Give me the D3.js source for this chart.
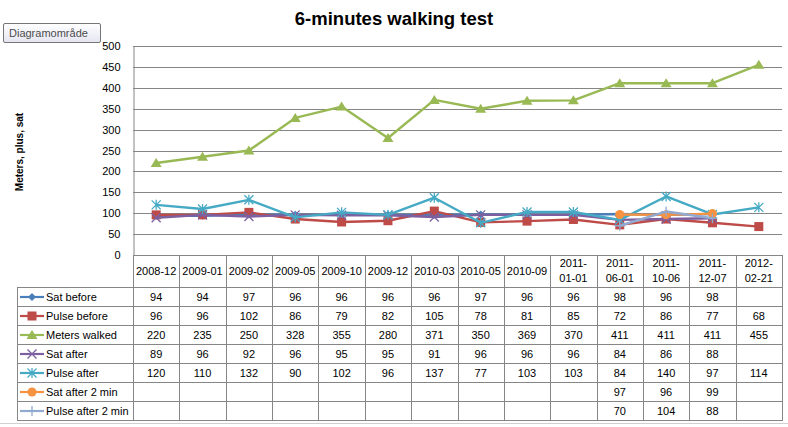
<!DOCTYPE html>
<html><head><meta charset="utf-8">
<script src="https://cdn.jsdelivr.net/npm/d3@7/dist/d3.min.js"></script>
<style>
html,body{margin:0;padding:0;background:#fff;}
svg{display:block;font-family:"Liberation Sans",Arial,sans-serif;}
</style></head>
<body><svg id="c" width="788" height="427"></svg>
<script>
const title = "6-minutes walking test";
const yTitle = "Meters, plus, sat";
const categories = ["2008-12","2009-01","2009-02","2009-05","2009-10","2009-12","2010-03","2010-05","2010-09","2011-01-01","2011-06-01","2011-10-06","2011-12-07","2012-02-21"];
const yTicks = [0,50,100,150,200,250,300,350,400,450,500];
const seriesNames = ["Sat before","Pulse before","Meters walked","Sat after","Pulse after","Sat after 2 min","Pulse after 2 min"];
const satBefore = [94,94,97,96,96,96,96,97,96,96,98,96,98,null];
const pulseBefore = [96,96,102,86,79,82,105,78,81,85,72,86,77,68];
const metersWalked = [220,235,250,328,355,280,371,350,369,370,411,411,411,455];
const satAfter = [89,96,92,96,95,95,91,96,96,96,84,86,88,null];
const pulseAfter = [120,110,132,90,102,96,137,77,103,103,84,140,97,114];
const satAfter2 = [null,null,null,null,null,null,null,null,null,null,97,96,99,null];
const pulseAfter2 = [null,null,null,null,null,null,null,null,null,null,70,104,88,null];
const seriesValues = [satBefore,pulseBefore,metersWalked,satAfter,pulseAfter,satAfter2,pulseAfter2];
const colors = ["#4A7EBB","#BE4B48","#98B954","#7D60A0","#46AAC5","#F69240","#93A9CF"];
const markers = ["diamond","square","triangle","x","asterisk","circle","plus"];

const svg = d3.select("#c");
const L = 133, R = 782, T = 46, B = 255;
const tableLeft = 17, headerBottom = 287, rowH = 19;

const x = d3.scaleBand().domain(categories).range([L, R]);
const y = d3.scaleLinear().domain([0, 500]).range([B, T]);
const grid = "#868686";

svg.append("line").attr("x1",0).attr("x2",788).attr("y1",423.5).attr("y2",423.5).attr("stroke","#d0d0d0");

svg.append("text").attr("x",394).attr("y",25).attr("text-anchor","middle")
  .attr("font-size",18.5).attr("font-weight","bold").text(title);

svg.append("text").attr("transform","translate(23,152) rotate(-90)").attr("text-anchor","middle")
  .attr("font-size",10).attr("font-weight","bold").text(yTitle);

svg.append("g").selectAll("line").data(yTicks).join("line")
  .attr("x1",L).attr("x2",R).attr("y1",d=>Math.round(y(d))+0.5).attr("y2",d=>Math.round(y(d))+0.5)
  .attr("stroke",grid).attr("stroke-width",1);

const ya = svg.append("g").attr("transform",`translate(${L+0.5},0)`)
  .call(d3.axisLeft(y).tickValues(yTicks).tickSize(0).tickPadding(13));
ya.select(".domain").attr("stroke",grid);
ya.selectAll("text").attr("font-size",11).attr("fill","#000").attr("font-family","Liberation Sans, Arial, sans-serif");

const tbl = svg.append("g");
const bw = x.bandwidth();
categories.forEach((c,i)=>{
  const xx = Math.round(x(c))+0.5;
  tbl.append("line").attr("x1",xx).attr("x2",xx).attr("y1",B).attr("y2",headerBottom+rowH*7).attr("stroke",grid);
});
tbl.append("line").attr("x1",R+0.5).attr("x2",R+0.5).attr("y1",B).attr("y2",headerBottom+rowH*7).attr("stroke",grid);
tbl.append("line").attr("x1",tableLeft+0.5).attr("x2",tableLeft+0.5).attr("y1",headerBottom).attr("y2",headerBottom+rowH*7).attr("stroke",grid);
for(let r=0;r<=7;r++){
  const yy = headerBottom + r*rowH + 0.5;
  tbl.append("line").attr("x1",tableLeft).attr("x2",R+1).attr("y1",yy).attr("y2",yy).attr("stroke",grid);
}
categories.forEach(c=>{
  const cx = x(c)+bw/2;
  const t = tbl.append("text").attr("text-anchor","middle").attr("font-size",11);
  if(c.length>7){
    t.append("tspan").attr("x",cx).attr("y",267).text(c.slice(0,5));
    t.append("tspan").attr("x",cx).attr("y",282).text(c.slice(5));
  } else {
    t.attr("x",cx).attr("y",275).text(c);
  }
});

function drawMarker(g, type, cx, cy, color){
  const s = 4.5;
  if(type==="diamond"){
    g.append("path").attr("d",`M${cx},${cy-4}L${cx+4},${cy}L${cx},${cy+4}L${cx-4},${cy}Z`).attr("fill",color);
  } else if(type==="square"){
    g.append("rect").attr("x",cx-4.5).attr("y",cy-4.5).attr("width",9).attr("height",9).attr("fill",color);
  } else if(type==="triangle"){
    g.append("path").attr("d",`M${cx},${cy-5}L${cx+5.5},${cy+4}L${cx-5.5},${cy+4}Z`).attr("fill",color);
  } else if(type==="circle"){
    g.append("circle").attr("cx",cx).attr("cy",cy).attr("r",4.5).attr("fill",color);
  } else if(type==="x"){
    g.append("path").attr("d",`M${cx-s},${cy-s}L${cx+s},${cy+s}M${cx-s},${cy+s}L${cx+s},${cy-s}`).attr("stroke",color).attr("stroke-width",1.3);
  } else if(type==="asterisk"){
    g.append("path").attr("d",`M${cx-s},${cy-s}L${cx+s},${cy+s}M${cx-s},${cy+s}L${cx+s},${cy-s}M${cx},${cy-s-0.5}L${cx},${cy+s+0.5}`).attr("stroke",color).attr("stroke-width",1.3);
  } else if(type==="plus"){
    g.append("path").attr("d",`M${cx-s-0.5},${cy}L${cx+s+0.5},${cy}M${cx},${cy-s-0.5}L${cx},${cy+s+0.5}`).attr("stroke",color).attr("stroke-width",1.3);
  }
}

const line = d3.line().defined(d=>d.v!=null).x(d=>x(d.c)+bw/2).y(d=>y(d.v));
seriesValues.forEach((vals,si)=>{
  const data = categories.map((c,i)=>({c, v: vals[i]}));
  const g = svg.append("g");
  g.append("path").datum(data.filter(d=>d.v!=null)).attr("d",line).attr("fill","none")
    .attr("stroke",colors[si]).attr("stroke-width",2.4).attr("stroke-linejoin","round");
  data.filter(d=>d.v!=null).forEach(d=>drawMarker(g, markers[si], x(d.c)+bw/2, y(d.v), colors[si]));
});

seriesNames.forEach((name,si)=>{
  const cy = headerBottom + si*rowH + rowH/2;
  const g = tbl.append("g");
  g.append("line").attr("x1",20).attr("x2",44).attr("y1",cy+0.5).attr("y2",cy+0.5).attr("stroke",colors[si]).attr("stroke-width",2.2);
  drawMarker(g, markers[si], 32, cy+0.5, colors[si]);
  g.append("text").attr("x",46).attr("y",cy+4.5).attr("font-size",11).text(name);
  seriesValues[si].forEach((v,i)=>{
    if(v==null) return;
    g.append("text").attr("x",x(categories[i])+bw/2).attr("y",cy+4.5).attr("text-anchor","middle").attr("font-size",11).text(v);
  });
});

const defs = svg.append("defs");
const lg = defs.append("linearGradient").attr("id","tipg").attr("x1",0).attr("x2",0).attr("y1",0).attr("y2",1);
lg.append("stop").attr("offset","0%").attr("stop-color","#ffffff");
lg.append("stop").attr("offset","100%").attr("stop-color","#e4e5f0");
svg.append("rect").attr("x",3.5).attr("y",23.5).attr("width",97).attr("height",19).attr("rx",1.5)
  .attr("fill","url(#tipg)").attr("stroke","#767676");
svg.append("text").attr("x",9).attr("y",37).attr("font-size",11).attr("fill","#4c4c4c").text("Diagramområde");
</script>
</body></html>
